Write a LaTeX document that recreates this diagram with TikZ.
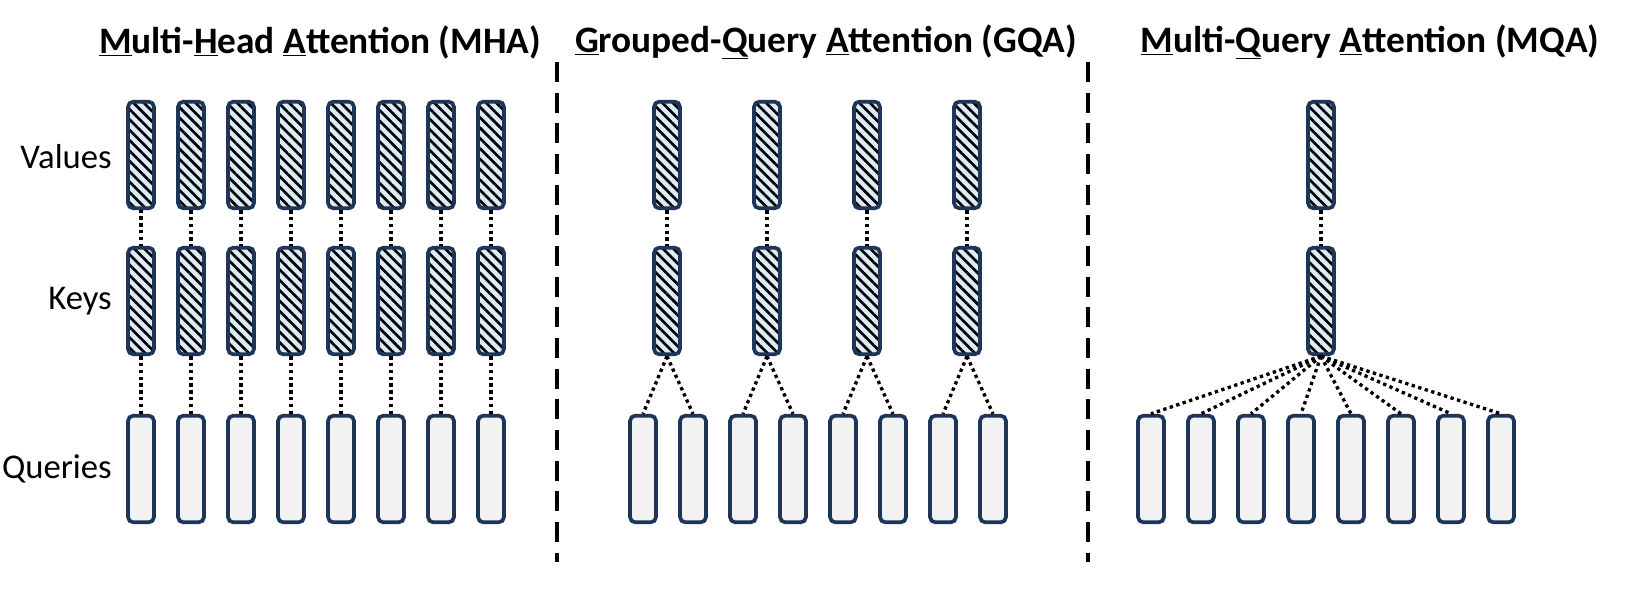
\documentclass[tikz,border=0pt]{standalone}
\usepackage{fontspec}
\setmainfont{Carlito}
\usetikzlibrary{patterns.meta}
\definecolor{navy}{HTML}{1F3558}
\definecolor{hfill}{HTML}{DDEBF7}
\definecolor{qfill}{HTML}{F2F2F2}
\tikzset{
 kv/.style={draw=navy,line width=2.8pt,rounded corners=4pt,minimum width=19.5pt,minimum height=80pt,inner sep=0pt,
   preaction={fill=hfill},pattern={Lines[angle=-45,distance=5.5pt,line width=2pt]},pattern color=black},
 qb/.style={draw=navy,line width=2.8pt,rounded corners=4pt,minimum width=19.5pt,minimum height=80pt,inner sep=0pt,fill=qfill},
 dl/.style={line width=2.5pt,dash pattern=on 2.5pt off 2.6pt},
 sep/.style={line width=3pt,dash pattern=on 15pt off 8pt},
 ttl/.style={font=\fontsize{28}{32}\selectfont\bfseries,anchor=center},
 lbl/.style={font=\fontsize{26}{30}\selectfont,anchor=east,inner sep=0pt}
}
\begin{document}
\begin{tikzpicture}[x=0.75pt,y=-0.75pt]
\useasboundingbox (0,0) rectangle (1648,602);
\node[ttl] (t1) at (320,42) {\underline{M}ulti-\underline{H}ead \underline{A}ttention (MHA)};
\node[ttl] (t2) at (826,42) {\underline{G}rouped-\underline{Q}uery \underline{A}ttention (GQA)};
\node[ttl] (t3) at (1370,42) {\underline{M}ulti-\underline{Q}uery \underline{A}ttention (MQA)};
\node[lbl] (lv) at (112,157) {Values};
\node[lbl] (lk) at (112,301) {Keys};
\node[lbl] (lq) at (112,469) {Queries};
\coordinate (s1a) at (557,62); \coordinate (s1b) at (557,562);
\coordinate (s2a) at (1088,62); \coordinate (s2b) at (1088,562);
\draw[sep] (s1a)--(s1b); \draw[sep] (s2a)--(s2b);
% MHA
\foreach \i in {0,...,7}{
 \node[kv] (mv\i) at (141+50*\i,155) {};
 \node[kv] (mk\i) at (141+50*\i,301) {};
 \node[qb] (mq\i) at (141+50*\i,469) {};
 \draw[dl] (mv\i.south)--(mk\i.north);
 \draw[dl] (mk\i.south)--(mq\i.north);
}
% GQA
\foreach \i in {0,...,3}{
 \node[kv] (gv\i) at (667+100*\i,155) {};
 \node[kv] (gk\i) at (667+100*\i,301) {};
 \draw[dl] (gv\i.south)--(gk\i.north);
}
\foreach \i in {0,...,7}{
 \node[qb] (gq\i) at (643+50*\i,469) {};
 \pgfmathtruncatemacro{\g}{int(\i/2)}
 \draw[dl] (gk\g.south)--(gq\i.north);
}
% MQA
\node[kv] (qv) at (1321,155) {};
\node[kv] (qk) at (1321,301) {};
\draw[dl] (qv.south)--(qk.north);
\foreach \i in {0,...,7}{
 \node[qb] (qq\i) at (1151+50*\i,469) {};
 \draw[dl] (qk.south)--(qq\i.north);
}
\end{tikzpicture}
\end{document}
